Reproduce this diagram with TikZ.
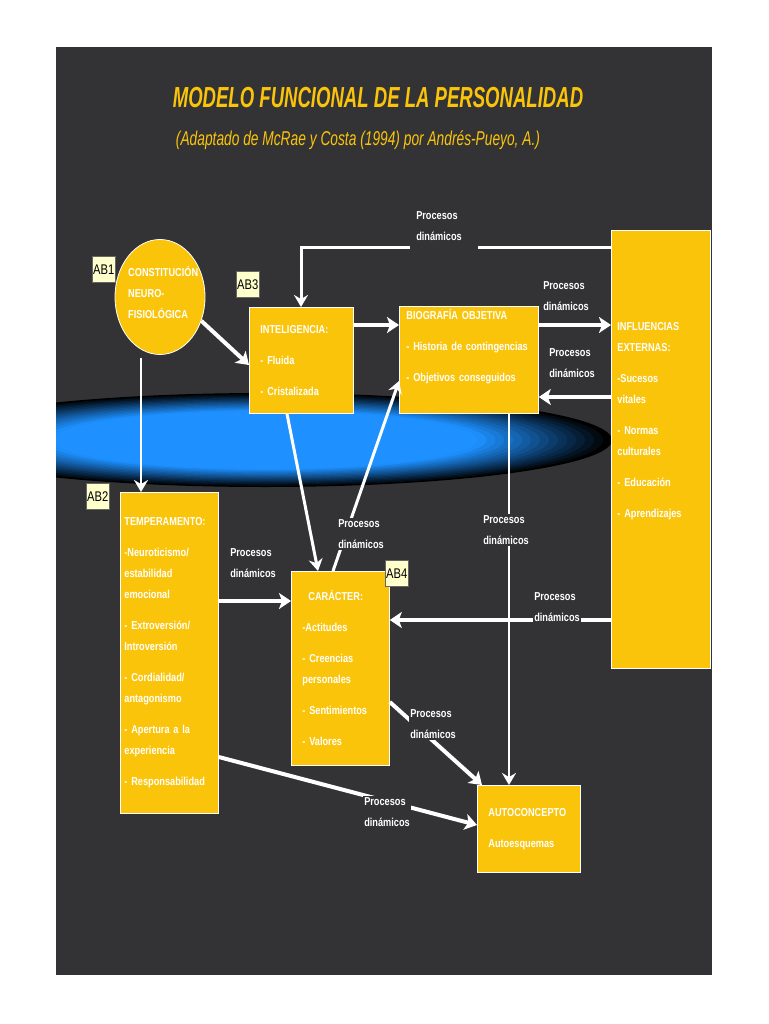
\documentclass[tikz,border=0pt]{standalone}
\usepackage{fontspec}
\setmainfont{Liberation Sans}[FakeStretch=0.8]
\usetikzlibrary{arrows.meta,shapes.geometric}
\definecolor{bg}{RGB}{51,51,54}
\definecolor{yel}{RGB}{250,196,10}
\definecolor{bl}{RGB}{30,144,255}
\definecolor{cream}{RGB}{255,255,204}
\tikzset{
  box/.style={draw=white, line width=0.8pt, fill=yel, anchor=north west, text=white, font=\bfseries\fontsize{11.5}{21}\selectfont, align=left, inner xsep=11pt, inner ysep=0pt},
  ab/.style={draw=black!60, fill=cream, text=black, font=\fontsize{14}{14}\selectfont, inner sep=1pt, minimum width=23pt, minimum height=26pt, anchor=north west},
  lab/.style={text=white, font=\bfseries\fontsize{11.5}{21}\selectfont, align=left, fill=bg, inner sep=1pt},
  labnf/.style={text=white, font=\bfseries\fontsize{11.5}{21}\selectfont, align=left, inner sep=1pt},
  thick arrow/.style={draw=white, line width=4pt, -{Stealth[length=12pt, width=16pt, inset=3pt]}},
  thin arrow/.style={draw=white, line width=2.2pt, -{Stealth[length=12pt, width=14pt, inset=4pt]}},
}
\begin{document}
\begin{tikzpicture}[x=1pt,y=-1pt]
\useasboundingbox (0,0) rectangle (768,1024);
\fill[white] (0,0) rectangle (768,1024);
\fill[bg] (56,47) rectangle (712,975);
\begin{scope}
\clip (56,47) rectangle (712,975);
\foreach \i in {0,...,24}{
  \pgfmathsetmacro{\f}{1-\i/24*0.62}
  \pgfmathsetmacro{\c}{min(100,\i*7)}
  \fill[bl!\c!black] (265,440) ellipse [x radius={347*\f}, y radius={47*\f}];
}
\end{scope}
\node[text=yel, font=\bfseries\itshape\fontsize{29}{29}\selectfont] (title) at (378,98) {\scalebox{0.8}[1]{MODELO FUNCIONAL DE LA PERSONALIDAD}};
\node[text=yel, font=\itshape\fontsize{20}{20}\selectfont] (sub) at (358,140) {\scalebox{0.86}[1]{(Adaptado de McRae y Costa (1994) por Andrés-Pueyo, A.)}};

\node[ellipse, fill=yel, draw=white, line width=0.8pt, minimum width=90pt, minimum height=115pt, inner sep=0pt] (cons) at (160,297) {};
\node[text=white, font=\bfseries\fontsize{11.5}{21}\selectfont, align=left, anchor=north west, inner sep=0pt] (constext) at (128,266) {CONSTITUCIÓN\\NEURO-\\FISIOLÓGICA};

\node[box, minimum width=104pt, minimum height=106pt, text width=82pt] (intel) at (249,307) {INTELIGENCIA:\\[10pt]- Fluida\\[10pt]- Cristalizada};
\node[box, minimum width=139pt, minimum height=107pt, text width=125pt, inner xsep=7pt] (bio) at (399,306) {BIOGRAFÍA OBJETIVA\\[10pt]- Historia de contingencias\\[10pt]- Objetivos conseguidos\\[8pt]\mbox{}};
\node[box, minimum width=99pt, minimum height=438pt, text width=87pt, inner xsep=6pt] (infl) at (611,230) {INFLUENCIAS\\EXTERNAS:\\[10pt]-Sucesos\\vitales\\[10pt]- Normas\\culturales\\[10pt]- Educación\\[10pt]- Aprendizajes\\[38pt]\mbox{}};
\node[box, minimum width=98pt, minimum height=321pt, text width=90pt, inner xsep=4pt] (temp) at (120,492) {TEMPERAMENTO:\\[10pt]-Neuroticismo/\\estabilidad\\emocional\\[10pt]- Extroversión/\\Introversión\\[10pt]- Cordialidad/\\antagonismo\\[10pt]- Apertura a la\\experiencia\\[10pt]- Responsabilidad};
\node[box, minimum width=98pt, minimum height=194pt, text width=76pt, inner xsep=11pt] (car) at (291,571) {\hspace*{6pt}CARÁCTER:\\[10pt]-Actitudes\\[10pt]- Creencias\\personales\\[10pt]- Sentimientos\\[10pt]- Valores};
\node[box, minimum width=103pt, minimum height=87pt, text width=81pt] (auto) at (477,785) {AUTOCONCEPTO\\[10pt]Autoesquemas};

\node[ab] (ab1) at (92,256) {AB1};
\node[ab] (ab3) at (236,271) {AB3};
\node[ab] (ab2) at (86,483) {AB2};
\node[ab] (ab4) at (385,560) {AB4};

% arrows
\draw[thick arrow] (cons.-30) -- (intel.west |- 0,365);
\draw[thin arrow] ([yshift=-3pt]cons.south -| 141,0) -- (temp.north -| 141,0);
\coordinate (t1) at (611,247);
\coordinate (t2) at (301,247);
\draw[draw=white, line width=3pt] (t1) -- (478,247);
\draw[thin arrow, line width=3pt] (410,247) -- (t2) -- (intel.north -| t2);
\node[labnf] (l1) at (439,226) {Procesos\\dinámicos};

\draw[thick arrow] (intel.east |- 0,325) -- (bio.west |- 0,325);
\draw[thick arrow] (bio.east |- 0,325) -- (infl.west |- 0,325);
\node[labnf] (l2) at (566,296) {Procesos\\dinámicos};
\draw[thick arrow] (infl.west |- 0,397) -- (bio.east |- 0,397);
\node[labnf] (l3) at (572,363) {Procesos\\dinámicos};

\draw[thin arrow, line width=3pt] (intel.south -| 287,0) -- (car.north -| 318,0);
\draw[thin arrow, line width=3pt] (car.north -| 333,0) -- (bio.west |- 0,381);
\node[lab] (l4) at (361,534) {Procesos\\dinámicos};

\draw[thin arrow] (bio.south -| 509,0) -- (auto.north -| 509,0);
\node[lab] (l5) at (506,530) {Procesos\\dinámicos};

\draw[thick arrow] (infl.west |- 0,620) -- (car.east |- 0,620);
\node[lab] (l6) at (557,607) {Procesos\\dinámicos};

\draw[thick arrow] (temp.east |- 0,601) -- (car.west |- 0,601);
\node[labnf] (l7) at (253,563) {Procesos\\dinámicos};

\draw[thick arrow] (car.east |- 0,702) -- ([xshift=5pt]auto.north west);
\node[lab] (l8) at (433,724) {Procesos\\dinámicos};

\draw[thick arrow] (temp.east |- 0,757) -- (auto.west |- 0,825);
\node[lab] (l9) at (387,812) {Procesos\\dinámicos};
\end{tikzpicture}
\end{document}
